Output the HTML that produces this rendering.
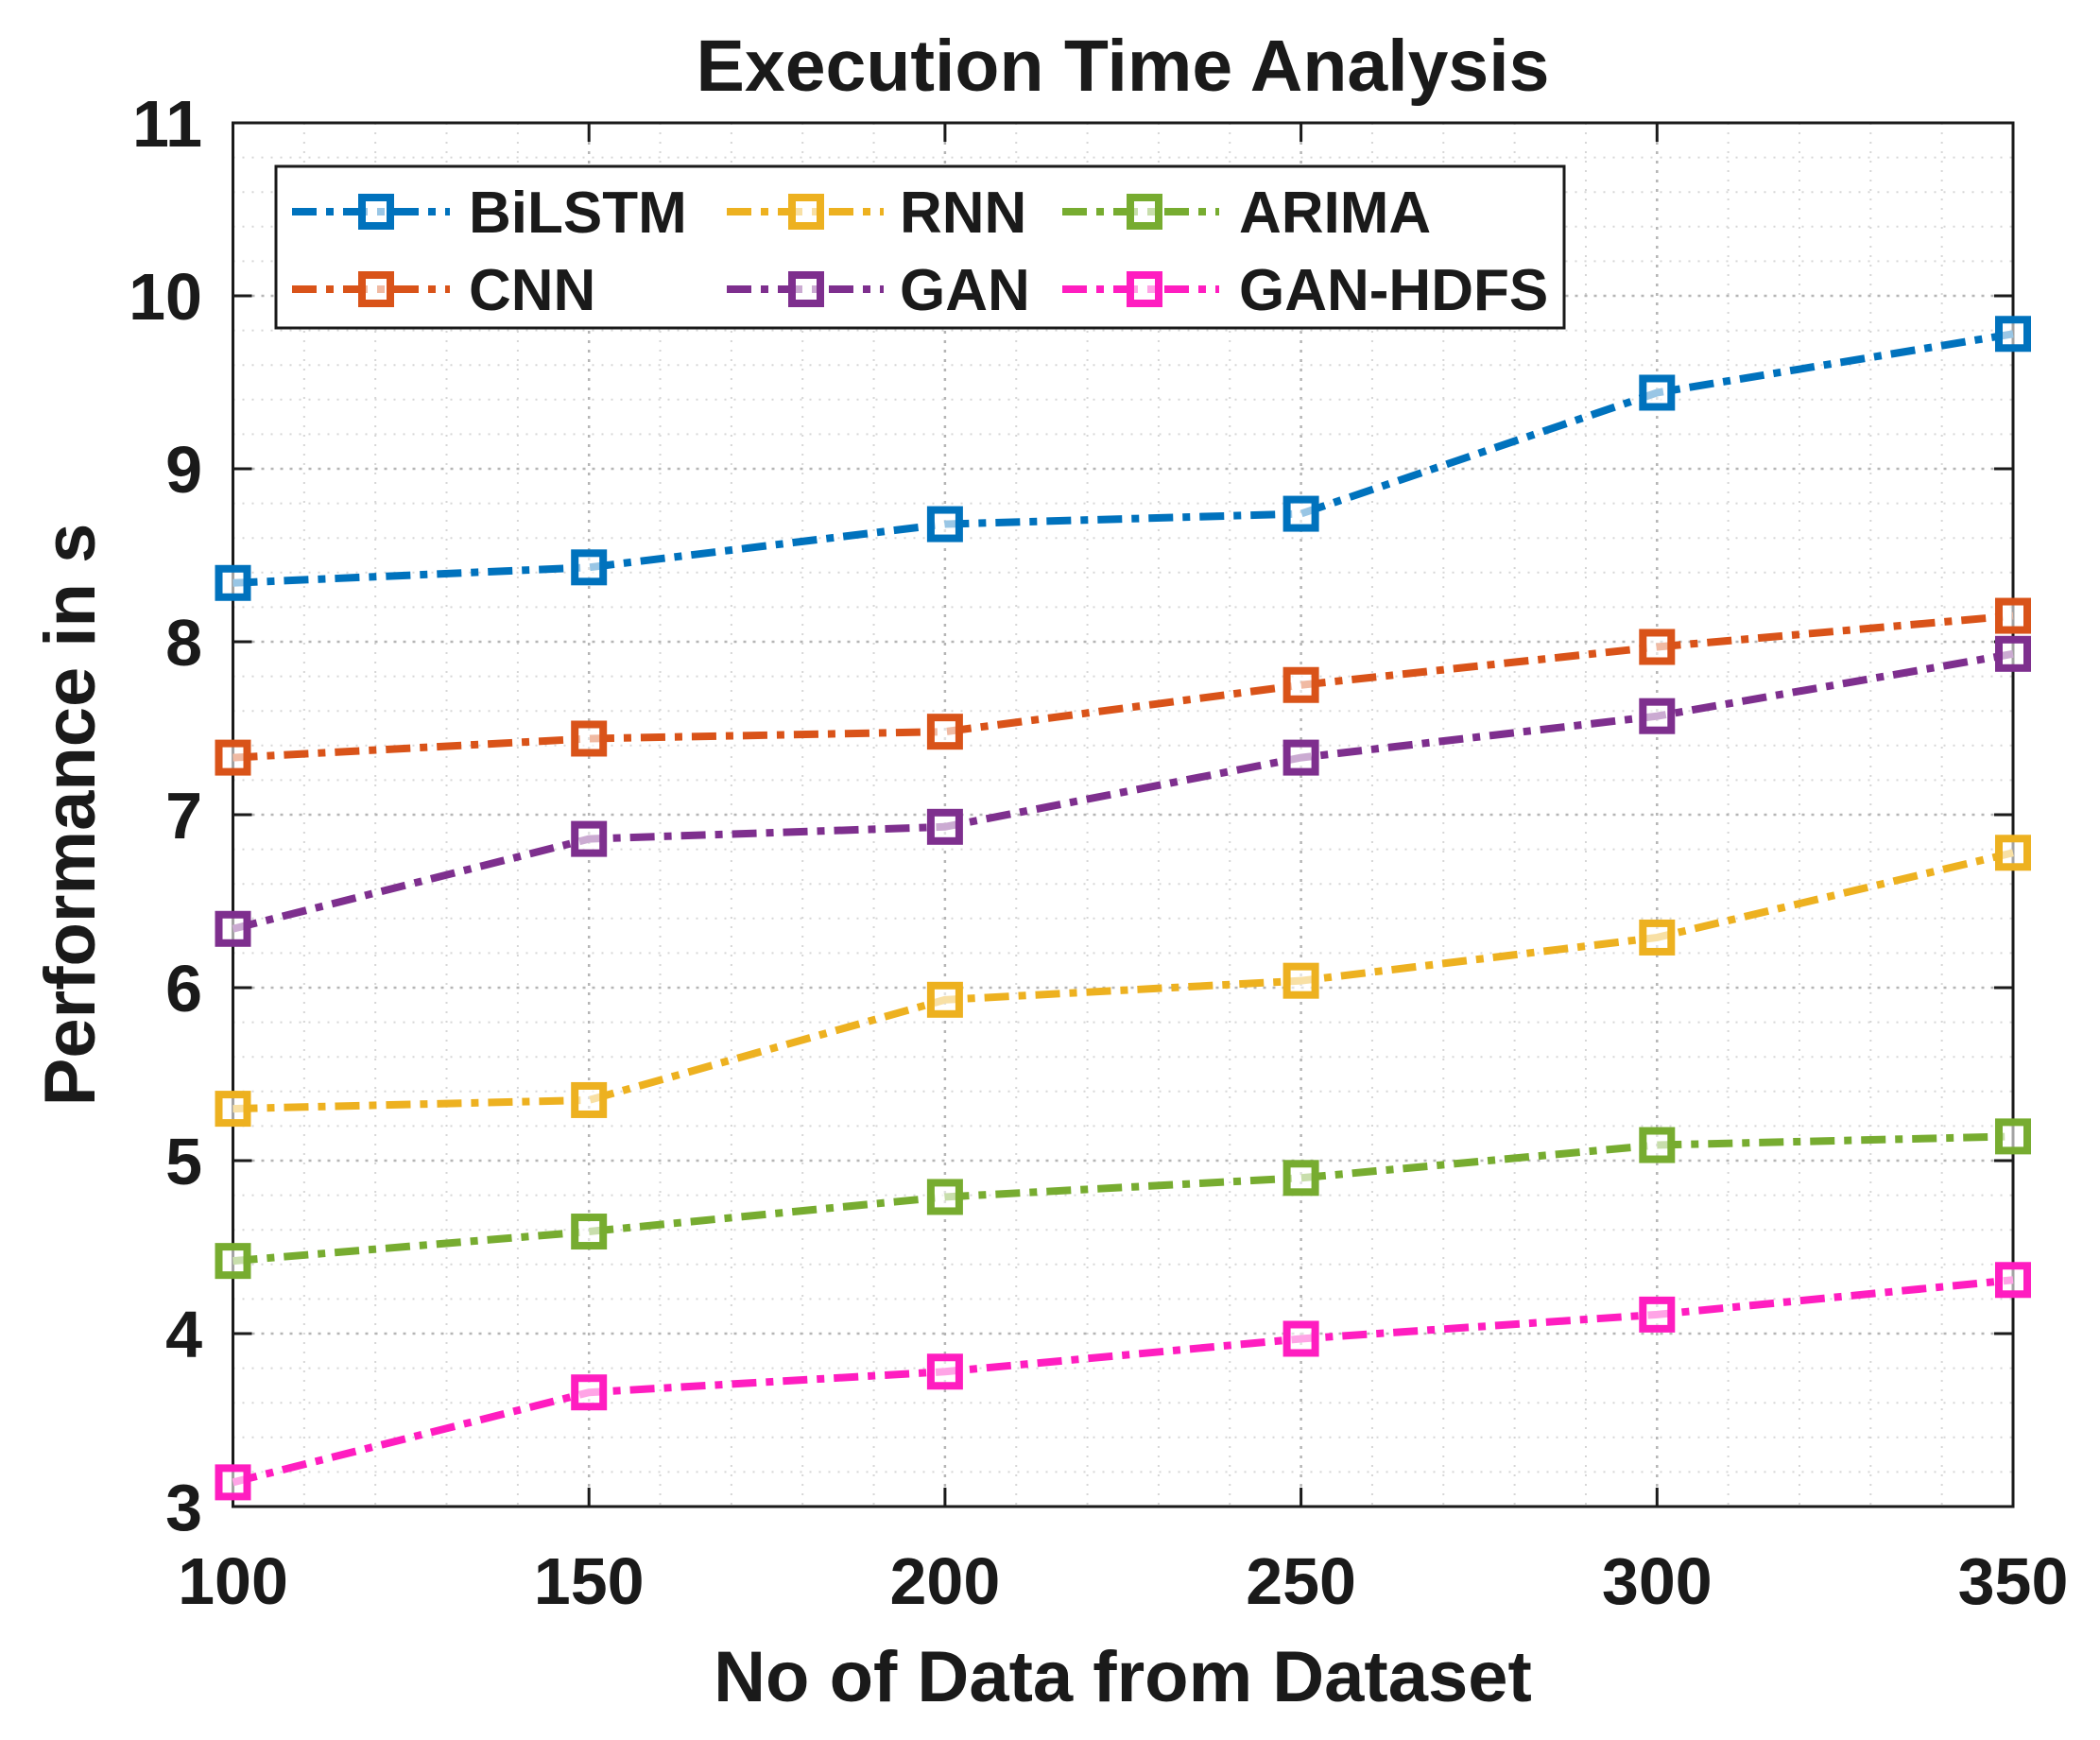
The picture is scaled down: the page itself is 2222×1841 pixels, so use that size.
<!DOCTYPE html>
<html><head><meta charset="utf-8"><style>
html,body{margin:0;padding:0;background:#fff}
svg{display:block}
text{font-family:"Liberation Sans",sans-serif;font-weight:bold;fill:#1a1a1a}
</style></head><body>
<svg width="2222" height="1841" viewBox="0 0 2222 1841" xmlns="http://www.w3.org/2000/svg">
<g id="grid"></g>
<rect x="246.5" y="130" width="1883.5" height="1464" fill="none" stroke="#1a1a1a" stroke-width="3"/>
<g id="ticks"></g>
<g id="series"></g>
<text x="1188" y="96" font-size="77" text-anchor="middle">Execution Time Analysis</text>
<g id="ylabels" font-size="70" text-anchor="end"></g>
<g id="xlabels" font-size="70" text-anchor="middle"></g>
<text x="1188" y="1800" font-size="76" text-anchor="middle">No of Data from Dataset</text>
<text transform="translate(100,862) rotate(-90)" font-size="76" text-anchor="middle">Performance in s</text>
<rect x="292" y="176" width="1363" height="171" fill="#fff" stroke="#1a1a1a" stroke-width="3"/>
<g id="legend" font-size="62"></g>
</svg>
<script>
var NS="http://www.w3.org/2000/svg";
function el(p,t,a,txt){var e=document.createElementNS(NS,t);for(var k in a)e.setAttribute(k,a[k]);if(txt)e.textContent=txt;document.getElementById(p).appendChild(e);return e;}
var L=246.5,R=2130,T=130,B=1594;
function X(v){return L+(v-100)/250*(R-L);}
function Y(v){return B-(v-3)/8*(B-T);}
for(var v=100;v<=350;v+=10){var x=X(v);var maj=(v%50==0);
 el("grid","line",{x1:x,x2:x,y1:T,y2:B,stroke:maj?"#b5b5b5":"#d6d6d6","stroke-width":maj?2.5:2,"stroke-dasharray":maj?"3 7":"2 8"});}
for(var v=3;v<=11.001;v+=0.2){var y=Y(v);var maj=Math.abs(v-Math.round(v))<0.01;
 el("grid","line",{x1:L,x2:R,y1:y,y2:y,stroke:maj?"#b5b5b5":"#d6d6d6","stroke-width":maj?2.5:2,"stroke-dasharray":maj?"3 7":"2 8"});}
for(var v=100;v<=350;v+=50){var x=X(v);
 el("ticks","line",{x1:x,x2:x,y1:B,y2:B-20,stroke:"#1a1a1a","stroke-width":3});
 el("ticks","line",{x1:x,x2:x,y1:T,y2:T+20,stroke:"#1a1a1a","stroke-width":3});
 el("xlabels","text",{x:x,y:1697},String(v));}
for(var v=3;v<=11;v++){var y=Y(v);
 el("ticks","line",{x1:L,x2:L+20,y1:y,y2:y,stroke:"#1a1a1a","stroke-width":3});
 el("ticks","line",{x1:R,x2:R-20,y1:y,y2:y,stroke:"#1a1a1a","stroke-width":3});
 el("ylabels","text",{x:214,y:y+25},String(v));}
var xs=[100,150,200,250,300,350];
var S=[
 ["BiLSTM","#0072BD",[8.34,8.43,8.68,8.74,9.44,9.78]],
 ["CNN","#D95319",[7.33,7.44,7.48,7.75,7.97,8.15]],
 ["RNN","#EDB120",[5.30,5.35,5.93,6.04,6.29,6.78]],
 ["GAN","#7E2F8E",[6.34,6.86,6.93,7.33,7.57,7.93]],
 ["ARIMA","#77AC30",[4.42,4.59,4.79,4.90,5.09,5.14]],
 ["GAN-HDFS","#FF1DC0",[3.14,3.66,3.78,3.97,4.11,4.31]]];
function marker(p,x,y,c){el(p,"rect",{x:x-15,y:y-15,width:30,height:30,fill:"#fff","fill-opacity":0.6,stroke:c,"stroke-width":8});}
S.forEach(function(s){
 var pts=xs.map(function(v,i){return X(v)+","+Y(s[2][i]);}).join(" ");
 el("series","polyline",{points:pts,fill:"none",stroke:s[1],"stroke-width":8,"stroke-dasharray":"26 10 8 10"});
 xs.forEach(function(v,i){marker("series",X(v),Y(s[2][i]),s[1]);});
});
var lx=[[309,476,398,496],[769,935,853,952],[1124,1290,1211,1311]];
var ly=[224,306];
var order=[[0,0,0],[2,1,0],[4,2,0],[1,0,1],[3,1,1],[5,2,1]];
order.forEach(function(o){var s=S[o[0]],c=lx[o[1]],y=ly[o[2]];
 el("legend","line",{x1:c[0],x2:c[1],y1:y,y2:y,stroke:s[1],"stroke-width":8,"stroke-dasharray":"26 10 8 10"});
 marker("legend",c[2],y,s[1]);
 el("legend","text",{x:c[3],y:y+22},s[0]);});
</script>
</body></html>
